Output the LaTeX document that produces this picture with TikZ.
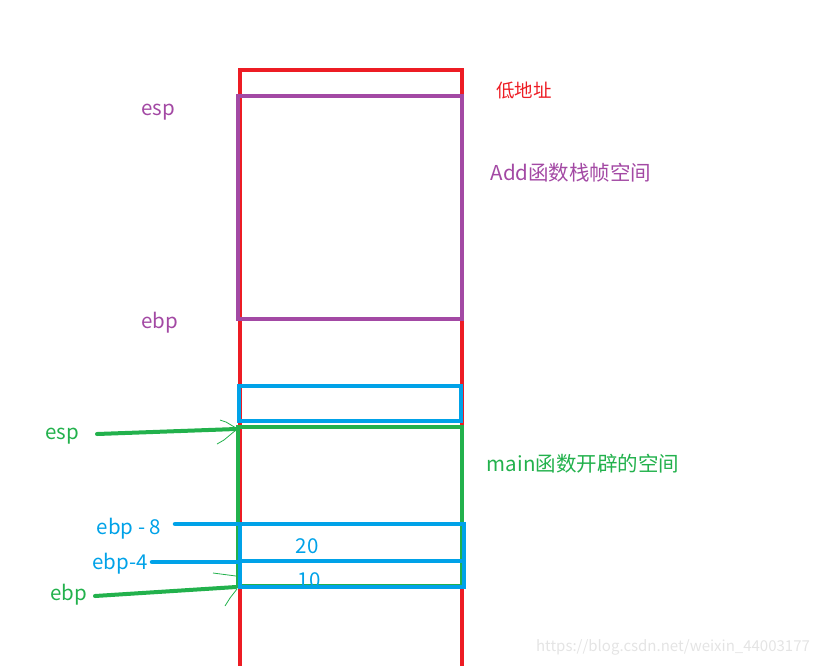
\documentclass[tikz,border=0pt]{standalone}
\usepackage{fontspec}
\setmainfont{Noto Sans CJK SC}
\definecolor{cred}{HTML}{ED1C24}
\definecolor{cpur}{HTML}{A349A4}
\definecolor{cblue}{HTML}{00A2E8}
\definecolor{cgreen}{HTML}{22B14C}
\definecolor{cwm}{HTML}{E4E4E4}
\begin{document}
\begin{tikzpicture}[x=1pt,y=-1pt,
  lbl/.style={inner sep=0pt,font=\fontsize{20.5}{23}\selectfont},
  box/.style={line width=4.5pt},
  thin/.style={line width=0.8pt}]
\useasboundingbox (0,0) rectangle (818,665);
% red column
\draw[cred,line width=4pt] (240,667) -- (240,70) -- (462,70) -- (462,667);
% purple Add frame
\draw[cpur,box] (238,96) rectangle (462,319);
% blue top box
\draw[cblue,box] (239,386) rectangle (461,421);
% green main frame
\draw[cgreen,box] (238,427) rectangle (462,586);
% blue lower boxes
\draw[cblue,box] (240,524) rectangle (464,587);
\draw[cblue,box] (240,561) -- (464,561);
% texts
\node[lbl,text=cred,font=\fontsize{18.5}{20}\selectfont] (low) at (524,91) {低地址};
\node[lbl,text=cpur] (addt) at (571,173) {Add函数栈帧空间};
\node[lbl,text=cgreen] (maint) at (583,464) {main函数开辟的空间};
\node[lbl,text=cpur] (esp1) at (158,112) {esp};
\node[lbl,text=cpur] (ebp1) at (160,323) {ebp};
\node[lbl,text=cgreen] (esp2) at (62,436) {esp};
\node[lbl,text=cgreen] (ebp2) at (69,595) {ebp};
\node[lbl,text=cblue] (ebp8) at (129,529) {ebp - 8};
\node[lbl,text=cblue] (ebp4) at (120,564) {ebp-4};
\node[lbl,text=cblue] (n20) at (307,546) {20};
\node[lbl,text=cblue] (n10) at (309,580) {10};
\node[inner sep=0pt,text=cwm,font=\fontsize{15}{17}\selectfont] (wm) at (673,647) {https://blog.csdn.net/weixin\_44003177};
% connectors
\coordinate (espT) at (236,429);
\coordinate (ebpT) at (236,587);
\coordinate (e8T) at (240,524);
\coordinate (e4T) at (240,562);
\draw[cgreen,line width=4pt,line cap=round] (97,434) -- (espT);
\draw[cgreen,thin] (220,420) -- (226,422) -- (236,428);
\draw[cgreen,thin] (217,444) -- (224,440) -- (236,430);
\draw[cgreen,line width=4pt,line cap=round] (95,596) -- (ebpT);
\draw[cgreen,thin] (213,573) -- (236,576);
\draw[cgreen,thin] (225,606) -- (230,598) -- (237,589);
\draw[cblue,line width=4.5pt,line cap=round] (175,524) -- (e8T);
\draw[cblue,line width=4.5pt,line cap=round] (152,562) -- (e4T);
\end{tikzpicture}
\end{document}
